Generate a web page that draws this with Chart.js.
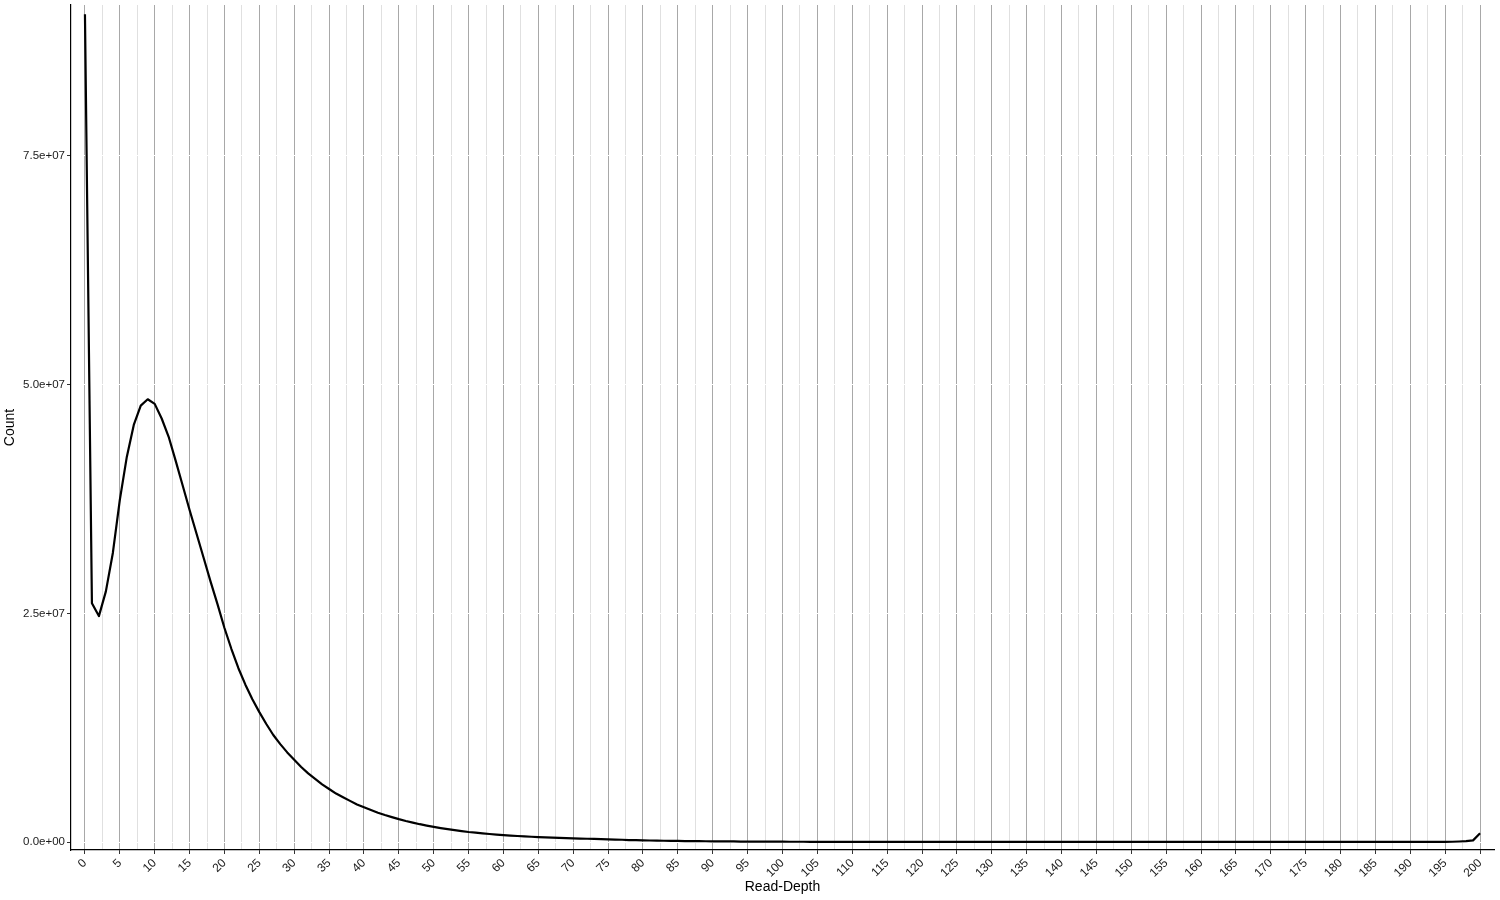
<!DOCTYPE html>
<html>
<head>
<meta charset="utf-8">
<title>Read-Depth</title>
<script src="https://cdn.jsdelivr.net/npm/chart.js@4/dist/chart.umd.min.js"></script>
<style>
  html, body { margin: 0; padding: 0; background: #fff; }
</style>
</head>
<body>
<canvas id="depthChart" width="1500" height="900"></canvas>
<script>
// read depth 0..200
const depths = Array.from({ length: 201 }, (_, i) => i);

// counts per depth (10 per row)
const counts = [
  90.5e6, 26.1e6, 24.7e6, 27.4e6, 31.6e6, 37.4e6, 42.1e6, 45.6e6, 47.7e6, 48.4e6,
  47.9e6, 46.3e6, 44.3e6, 41.7e6, 39.0e6, 36.3e6, 33.7e6, 31.1e6, 28.5e6, 26.0e6,
  23.4e6, 21.1e6, 19.0e6, 17.2e6, 15.6e6, 14.2e6, 12.9e6, 11.7e6, 10.7e6, 9.8e6,
  9.0e6, 8.2e6, 7.5e6, 6.9e6, 6.3e6, 5.8e6, 5.3e6, 4.9e6, 4.5e6, 4.1e6,
  3.8e6, 3.5e6, 3.2e6, 2.95e6, 2.72e6, 2.5e6, 2.3e6, 2.12e6, 1.95e6, 1.8e6,
  1.66e6, 1.53e6, 1.41e6, 1.3e6, 1.2e6, 1.1e6, 1.02e6, 0.95e6, 0.88e6, 0.82e6,
  0.76e6, 0.71e6, 0.66e6, 0.62e6, 0.58e6, 0.54e6, 0.51e6, 0.48e6, 0.45e6, 0.42e6,
  0.4e6, 0.38e6, 0.36e6, 0.34e6, 0.32e6, 0.3e6, 0.27e6, 0.25e6, 0.22e6, 0.2e6,
  0.18e6, 0.17e6, 0.15e6, 0.14e6, 0.13e6, 0.12e6, 0.11e6, 0.1e6, 0.095e6, 0.087e6,
  0.08e6, 0.074e6, 0.068e6, 0.062e6, 0.056e6, 0.05e6, 0.047e6, 0.044e6, 0.041e6, 0.038e6,
  0.035e6, 0.033e6, 0.031e6, 0.03e6, 0.028e6, 0.027e6, 0.025e6, 0.024e6, 0.023e6, 0.021e6,
  0.02e6, 0.019e6, 0.018e6, 0.017e6, 0.016e6, 0.015e6, 0.014e6, 0.013e6, 0.012e6, 0.011e6,
  0.01e6, 0.01e6, 0.01e6, 0.01e6, 0.01e6, 0.01e6, 0.01e6, 0.01e6, 0.01e6, 0.01e6,
  0.01e6, 0.01e6, 0.01e6, 0.01e6, 0.01e6, 0.01e6, 0.01e6, 0.01e6, 0.01e6, 0.01e6,
  0.01e6, 0.01e6, 0.01e6, 0.01e6, 0.01e6, 0.01e6, 0.01e6, 0.01e6, 0.01e6, 0.01e6,
  0.01e6, 0.01e6, 0.01e6, 0.01e6, 0.01e6, 0.01e6, 0.01e6, 0.01e6, 0.01e6, 0.01e6,
  0.01e6, 0.01e6, 0.01e6, 0.01e6, 0.01e6, 0.01e6, 0.01e6, 0.01e6, 0.01e6, 0.01e6,
  0.01e6, 0.01e6, 0.01e6, 0.01e6, 0.01e6, 0.01e6, 0.01e6, 0.01e6, 0.01e6, 0.01e6,
  0.01e6, 0.01e6, 0.01e6, 0.01e6, 0.01e6, 0.01e6, 0.01e6, 0.01e6, 0.01e6, 0.01e6,
  0.01e6, 0.01e6, 0.01e6, 0.01e6, 0.01e6, 0.01e6, 0.03e6, 0.06e6, 0.1e6, 0.18e6,
  0.95e6
];

const xTickValues = [
  0, 5, 10, 15, 20, 25, 30, 35, 40, 45, 50, 55, 60, 65, 70, 75, 80, 85, 90, 95, 100,
  105, 110, 115, 120, 125, 130, 135, 140, 145, 150, 155, 160, 165, 170, 175, 180, 185, 190, 195, 200
];
const yTickValues = [0, 2.5e7, 5e7, 7.5e7];

// minor grid lines sit halfway between the labelled ticks
const xGridValues = [];
xTickValues.forEach((v, i) => {
  xGridValues.push(v);
  if (i < xTickValues.length - 1) xGridValues.push((v + xTickValues[i + 1]) / 2);
});

const isMajor = v => xTickValues.includes(v);

function sciLabel(v) {
  const [m, e] = Number(v).toExponential(1).split('e');
  const sign = e[0] === '-' ? '-' : '+';
  const digits = e.replace(/[+-]/, '').padStart(2, '0');
  return m + 'e' + sign + digits;
}

Chart.defaults.font.family = "'Liberation Sans', Arial, sans-serif";
Chart.defaults.color = '#000';

const ctx = document.getElementById('depthChart').getContext('2d');
new Chart(ctx, {
  type: 'line',
  data: {
    datasets: [{
      data: depths.map((d, i) => ({ x: d, y: counts[i] })),
      borderColor: '#000',
      borderWidth: 2.2,
      pointRadius: 0,
      tension: 0,
      fill: false,
      borderJoinStyle: 'round'
    }]
  },
  options: {
    responsive: false,
    animation: false,
    layout: { padding: { top: 5, right: 6, left: 0, bottom: 0 } },
    plugins: {
      legend: { display: false },
      tooltip: { enabled: false }
    },
    scales: {
      x: {
        type: 'linear',
        position: 'bottom',
        min: -2,
        max: 202,
        afterBuildTicks: scale => {
          scale.ticks = xGridValues.map(v => ({ value: v }));
        },
        afterFit: scale => { scale.height = 50; },
        ticks: {
          autoSkip: false,
          minRotation: 45,
          maxRotation: 45,
          padding: 2,
          color: '#1a1a1a',
          font: { size: 12 },
          callback: v => (isMajor(v) ? String(v) : '')
        },
        grid: {
          z: -2,
          lineWidth: 1,
          color: c => (isMajor(c.tick.value) ? '#a8a8a8' : '#e0e0e0'),
          drawTicks: true,
          tickLength: 4,
          tickColor: c => (isMajor(c.tick.value) ? '#333' : 'rgba(0,0,0,0)')
        },
        border: { display: true, color: '#000', width: 1.2 },
        title: {
          display: true,
          text: 'Read-Depth',
          color: '#000',
          font: { size: 14 },
          padding: { top: 0, bottom: 4 }
        }
      },
      y: {
        type: 'linear',
        min: -0.87e6,
        max: 91.5e6,
        afterBuildTicks: scale => {
          scale.ticks = yTickValues.map(v => ({ value: v }));
        },
        afterFit: scale => {
          scale.width = 71;
          scale.paddingTop = 0;
          scale.paddingBottom = 0;
        },
        ticks: {
          padding: 2,
          color: '#1a1a1a',
          font: { size: 11.5 },
          callback: v => sciLabel(v)
        },
        grid: {
          z: -1,
          lineWidth: 1,
          color: '#ffffff',
          drawTicks: true,
          tickLength: 4,
          tickColor: '#333'
        },
        border: { display: true, color: '#000', width: 1.2 },
        title: {
          display: true,
          text: 'Count',
          color: '#000',
          font: { size: 14 },
          padding: { top: 2, bottom: 0 }
        }
      }
    }
  }
});
</script>
</body>
</html>
